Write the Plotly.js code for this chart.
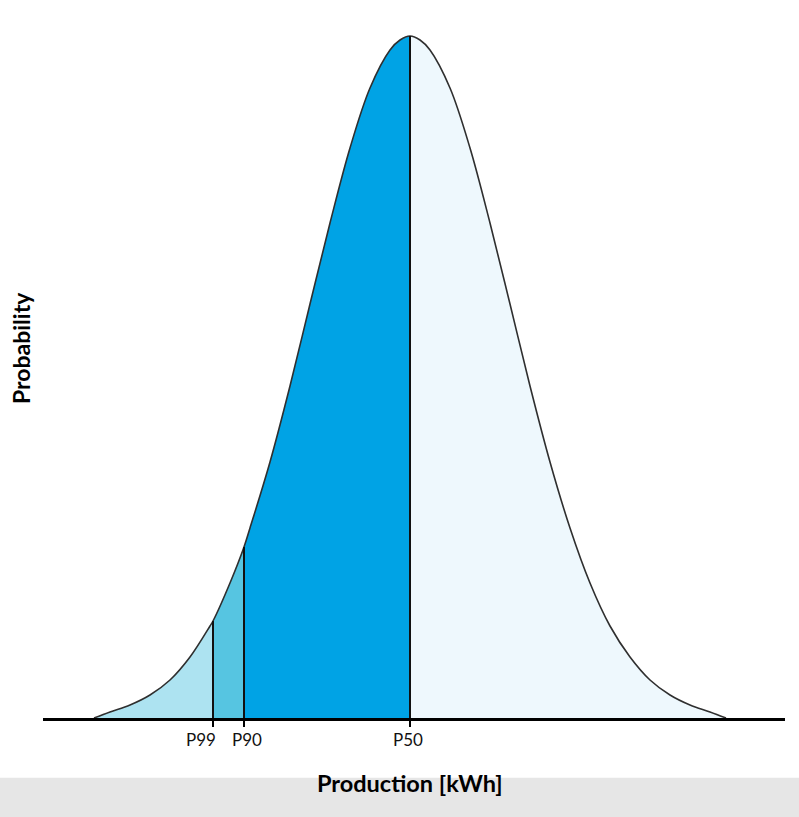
<!DOCTYPE html>
<html><head><meta charset="utf-8">
<script src="https://cdn.plot.ly/plotly-3.0.1.min.js"></script>
<style>html,body{margin:0;padding:0;background:#fff}#chart{width:799px;height:817px}</style>
</head><body><div id="chart"></div>
<script>
// Production offset from P50 (arbitrary units) and probability density (arbitrary units)
const curveX = [-316,-300,-280,-260,-240,-220,-200,-197,-180,-166,-160,-140,-120,-100,-80,-60,-40,-20,-10,0,10,20,40,60,80,100,120,140,160,180,200,220,240,260,280,300,316];
const curveY = [0,6,13,23,38,61,92,97,135,171,190,256,332,414,495,570,630,668,678,682,678,668,630,570,495,414,332,256,190,135,92,61,38,23,13,6,0];
const pctLabels = ['P99','P90','P50'];
const pctX = [-197,-166,0];
const pctY = [97,171,682];
const bandEdges = [-316,-197,-166,0,316];
const bandColors = ['#ADE3F1','#56C5E1','#00A3E5','#EEF8FD'];

const traces = [];
for (let i = 0; i < bandColors.length; i++) {
  const xs = [], ys = [];
  curveX.forEach((x, k) => { if (x >= bandEdges[i] && x <= bandEdges[i+1]) { xs.push(x); ys.push(curveY[k]); } });
  traces.push({x: xs, y: ys, type: 'scatter', mode: 'lines', fill: 'tozeroy', fillcolor: bandColors[i],
    line: {width: 0, color: bandColors[i], shape: 'spline', smoothing: 1}, hoverinfo: 'skip', showlegend: false});
}
traces.push({x: curveX, y: curveY, type: 'scatter', mode: 'lines', line: {color: '#2f2f2f', width: 1.6, shape: 'spline', smoothing: 1},
  hoverinfo: 'skip', showlegend: false});
pctX.forEach((x, i) => {
  traces.push({x: [x, x], y: [0, pctY[i]], type: 'scatter', mode: 'lines', line: {color: '#111', width: 2},
    hoverinfo: 'skip', showlegend: false});
});

const labelShift = [-12, 3, -2];
const annotations = pctLabels.map((t, i) => ({
  text: t, x: pctX[i], xref: 'x', y: -0.0315, yref: 'paper', xanchor: 'center', yanchor: 'middle',
  xshift: labelShift[i], showarrow: false, font: {family: 'Lato', size: 17, color: '#111'}
}));
annotations.push({text: '<b>Production [kWh]</b>', x: 0.495, xref: 'paper', y: -0.093, yref: 'paper',
  xanchor: 'center', yanchor: 'middle', showarrow: false, font: {family: 'Lato', size: 23.5, color: '#000'}});
annotations.push({text: '<b>Probability</b>', x: 0, xref: 'paper', xshift: -22, y: 0.53, yref: 'paper',
  xanchor: 'center', yanchor: 'middle', textangle: -90, showarrow: false, font: {family: 'Lato', size: 23, color: '#000'}});

const layout = {
  width: 799, height: 817,
  margin: {l: 43, r: 14, t: 20, b: 99},
  paper_bgcolor: '#ffffff', plot_bgcolor: 'rgba(0,0,0,0)',
  xaxis: {range: [-367, 375], showgrid: false, zeroline: false, showline: true, linecolor: '#000', linewidth: 3,
    ticks: 'outside', ticklen: 6, tickwidth: 2, tickcolor: '#000', tickvals: pctX, showticklabels: false, fixedrange: true},
  yaxis: {range: [0, 698], showgrid: false, zeroline: false, showline: false, showticklabels: false, ticks: '', fixedrange: true},
  shapes: [{type: 'rect', xref: 'paper', yref: 'paper', x0: -0.06, x1: 1.02, y0: -0.142, y1: -0.0855,
    fillcolor: '#E6E6E6', line: {width: 0}, layer: 'below'}],
  annotations: annotations
};
Plotly.newPlot('chart', traces, layout, {staticPlot: true, displayModeBar: false});
</script></body></html>
